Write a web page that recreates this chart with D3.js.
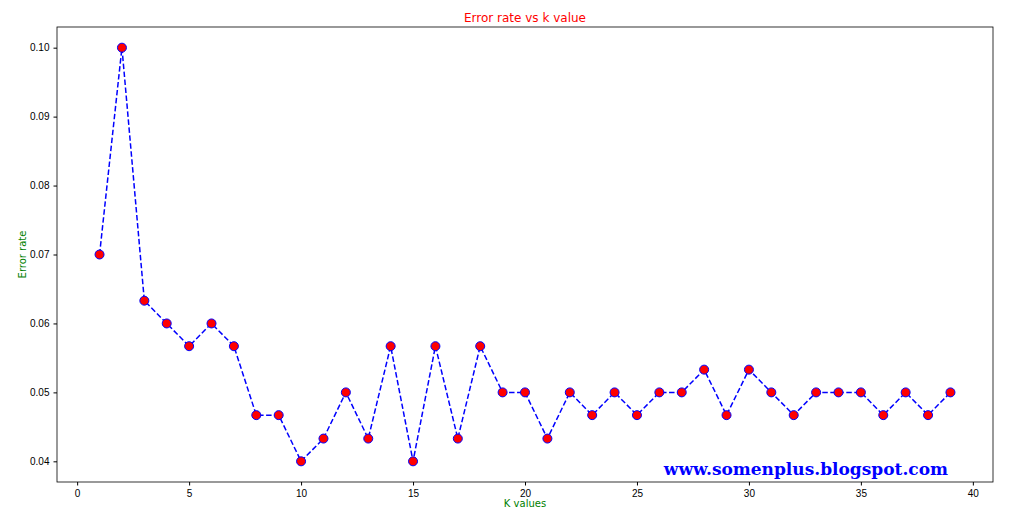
<!DOCTYPE html>
<html><head><meta charset="utf-8">
<script src="https://cdn.jsdelivr.net/npm/d3@7"></script>
<style>body{margin:0;background:#fff;font-family:"DejaVu Sans",sans-serif}</style>
</head><body><svg width="1023" height="529"></svg>
<script>
const kValues = d3.range(1, 40);
const errorRates = [0.07, 0.10, 0.0633, 0.06, 0.0567, 0.06, 0.0567, 0.0467, 0.0467, 0.04,
  0.0433, 0.05, 0.0433, 0.0567, 0.04, 0.0567, 0.0433, 0.0567, 0.05, 0.05,
  0.0433, 0.05, 0.0467, 0.05, 0.0467, 0.05, 0.05, 0.0533, 0.0467, 0.0533,
  0.05, 0.0467, 0.05, 0.05, 0.05, 0.0467, 0.05, 0.0467, 0.05];
const xTicks = [0, 5, 10, 15, 20, 25, 30, 35, 40];
const yTicks = [0.04, 0.05, 0.06, 0.07, 0.08, 0.09, 0.10];

const svg = d3.select("svg");
const plotLeft = 57, plotRight = 993, plotTop = 27, plotBottom = 482;

const x = d3.scaleLinear().domain([-0.9, 40.9]).range([plotLeft, plotRight]);
const y = d3.scaleLinear().domain([0.037, 0.103]).range([plotBottom, plotTop]);

const xAxis = svg.append("g").attr("transform", "translate(0," + plotBottom + ")")
  .call(d3.axisBottom(x).tickValues(xTicks).tickSize(3.5).tickPadding(4).tickFormat(d3.format("d")));
const yAxis = svg.append("g").attr("transform", "translate(" + plotLeft + ",0)")
  .call(d3.axisLeft(y).tickValues(yTicks).tickSize(3.5).tickPadding(4).tickFormat(d3.format(".2f")));
[xAxis, yAxis].forEach(a => {
  a.select(".domain").remove();
  a.selectAll("text").attr("font-size", 10).attr("fill", "#000");
});

svg.append("rect").attr("x", plotLeft).attr("y", plotTop)
  .attr("width", plotRight - plotLeft).attr("height", plotBottom - plotTop)
  .attr("fill", "none").attr("stroke", "#000").attr("stroke-width", 0.8);

const line = d3.line().x((d, i) => x(kValues[i])).y(d => y(d));
svg.append("path").datum(errorRates).attr("d", line)
  .attr("fill", "none").attr("stroke", "blue").attr("stroke-width", 1.5)
  .attr("stroke-dasharray", "5.5,2.5");

svg.selectAll("circle.pt").data(errorRates).enter().append("circle")
  .attr("class", "pt")
  .attr("cx", (d, i) => x(kValues[i])).attr("cy", d => y(d)).attr("r", 4.5)
  .attr("fill", "red").attr("stroke", "blue").attr("stroke-width", 1);

svg.append("text").attr("x", (plotLeft + plotRight) / 2).attr("y", 22).attr("text-anchor", "middle")
  .attr("font-size", 12).attr("fill", "red").text("Error rate vs k value");
svg.append("text").attr("x", (plotLeft + plotRight) / 2).attr("y", 507).attr("text-anchor", "middle")
  .attr("font-size", 10).attr("fill", "green").text("K values");
svg.append("text").attr("transform", "translate(26," + (plotTop + plotBottom) / 2 + ") rotate(-90)")
  .attr("text-anchor", "middle").attr("font-size", 10).attr("fill", "green").text("Error rate");

svg.append("text").attr("x", 948).attr("y", 475).attr("text-anchor", "end")
  .attr("font-family", "'DejaVu Serif','Liberation Serif',serif").attr("font-weight", "bold")
  .attr("font-size", 17).attr("fill", "blue").text("www.somenplus.blogspot.com");
</script></body></html>
